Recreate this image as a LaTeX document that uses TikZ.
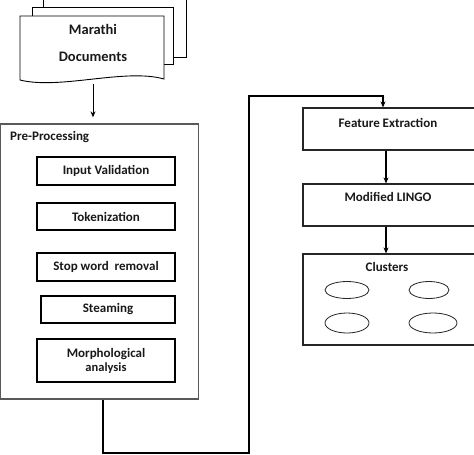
\documentclass[tikz,border=0pt]{standalone}
\usepackage{fontspec}
\setmainfont{Carlito}
\usetikzlibrary{arrows.meta}
\begin{document}
\begin{tikzpicture}[x=1pt,y=-1pt,
  txt/.style={font=\fontsize{13}{14}\selectfont\bfseries, text=black!90},
  doctxt/.style={font=\fontsize{14.5}{16}\selectfont\bfseries, text=black!90},
  sheet/.style={draw=black, line width=0.9pt, fill=white},
  outerbox/.style={draw=black!65, line width=1.3pt, inner sep=0pt},
  stepbox/.style={draw=black, line width=1.2pt, inner sep=0pt, align=center, txt},
  rbox/.style={draw=black!85, line width=1.2pt, inner sep=0pt},
  conn/.style={draw=black, line width=1.5pt},
  arr/.style={conn, -{Stealth[length=6pt,width=5pt]}},
  oval/.style={draw=black!85, line width=0.8pt}]
\useasboundingbox (0,0) rectangle (474,455);
\clip (0,0) rectangle (474,455);
\fill[white] (0,0) rectangle (474,455);

% document stack
\draw[sheet] (43,-5) rectangle (186,57);
\draw[sheet] (32,7) rectangle (173,64);
\draw[sheet] (20,16) -- (164,16) -- (164,79)
   .. controls (125,68) and (60,90) .. (20,80) -- cycle;
\node[doctxt] (mar) at (93,29) {Marathi};
\node[doctxt] (docs) at (93,57) {Documents};
\coordinate (docb) at (93,84);

% pre-processing
\node[outerbox, minimum width=198pt, minimum height=275pt] (pre) at (99.5,261.5) {};
\node[txt, anchor=west, inner sep=0pt] (prel) at (10,137) {Pre-Processing};
\node[stepbox, minimum width=138pt, minimum height=28pt] (inp) at (106,171) {Input Validation};
\node[stepbox, minimum width=138pt, minimum height=27pt] (tok) at (106,216.5) {Tokenization};
\node[stepbox, minimum width=138pt, minimum height=28pt] (stop) at (106,267) {Stop word~~removal};
\node[stepbox, minimum width=134pt, minimum height=27pt] (steam) at (108,309.5) {Steaming};
\node[stepbox, minimum width=138pt, minimum height=43pt] (morph) at (106,360.5)
  {Morphological\\[0pt]{\fontsize{12.5}{13}\selectfont analysis}};

% right column
\node[rbox, minimum width=173pt, minimum height=42pt] (fe) at (389.5,129) {};
\node[txt] (fel) at (388,123) {Feature Extraction};
\node[rbox, minimum width=173pt, minimum height=42pt] (ml) at (389.5,205) {};
\node[txt] (mll) at (388,197) {Modified LINGO};
\node[rbox, minimum width=173pt, minimum height=91pt] (cl) at (389.5,299.5) {};
\node[txt] (cll) at (387,267) {Clusters};
\draw[oval] (347,290) ellipse (22 and 8.5);
\draw[oval] (429,290) ellipse (20 and 8.5);
\draw[oval] (347,323) ellipse (22 and 10);
\draw[oval] (433,323) ellipse (24 and 10);

% connectors
\draw[arr, line width=1pt, shorten >=6pt] (docb) -- (pre.north -| docb);
\coordinate (c1) at (249,453);
\coordinate (c2) at (249,96);
\draw[arr] ([xshift=3.5pt]pre.south) |- (c1) -- (c2) -| ([xshift=-6.5pt]fe.north);
\draw[arr] ([xshift=-3.5pt]fe.south) -- ([xshift=-3.5pt]ml.north);
\draw[arr] ([xshift=-3.5pt]ml.south) -- ([xshift=-3.5pt]cl.north);
\end{tikzpicture}
\end{document}
